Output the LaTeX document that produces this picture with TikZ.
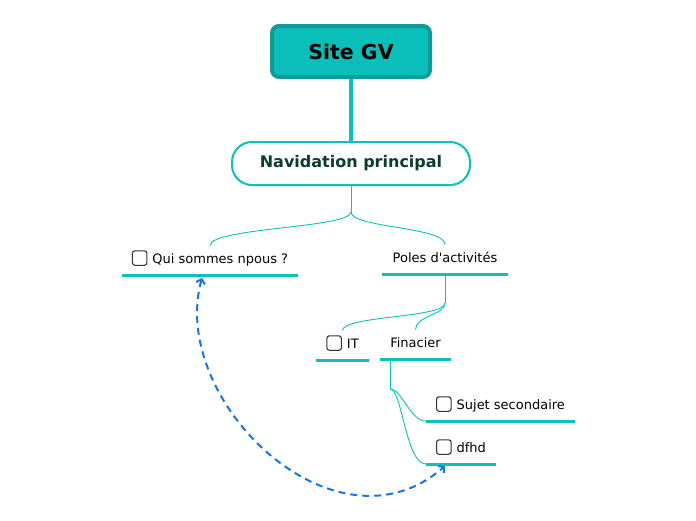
\documentclass[tikz,border=0pt]{standalone}
\usepackage{fontspec}
\setmainfont{DejaVu Sans}
\usepackage{tikz}
\usetikzlibrary{arrows.meta,positioning,calc}
\definecolor{tealfill}{HTML}{0ABFBA}
\definecolor{tealedge}{HTML}{12999A}
\definecolor{tealline}{HTML}{0DC0B9}
\definecolor{navtext}{HTML}{0B3D2E}
\definecolor{linkblue}{HTML}{1A73E8}
\definecolor{boxgray}{HTML}{333333}
\newcommand{\chkbox}{\tikz[baseline=1.5pt]\draw[draw=boxgray,line width=1.1pt,rounded corners=2.5pt] (0pt,0pt) rectangle (14.5pt,14.5pt);\hspace{5pt}}

\begin{document}
\begin{tikzpicture}[
  x=1pt,y=-1pt,
  font=\fontsize{13}{15}\selectfont,
  rootbox/.style={draw=tealedge,fill=tealfill,line width=4pt,rounded corners=7pt,minimum width=158pt,minimum height=51pt,font=\fontsize{20.5}{24}\selectfont\bfseries},
  mainbox/.style={draw=tealline,line width=2pt,rounded corners=20pt,minimum width=238pt,minimum height=43pt,text=navtext,font=\fontsize{16}{18}\selectfont\bfseries},
  topic/.style={anchor=south,inner xsep=10pt,inner ysep=8pt,text height=10pt,text depth=3pt},
  uline/.style={tealline,line width=3pt},
  trunk/.style={tealline,line width=4pt},
  branch/.style={tealline,line width=0.9pt},
  link/.style={linkblue,line width=2pt,dash pattern=on 7pt off 5pt,{Straight Barb[length=4pt,width=9pt]}-{Straight Barb[length=4pt,width=9pt]}}
]
\useasboundingbox (0,0) rectangle (696,520);

\node[rootbox] (root) at (351,51.5) {Site GV};
\node[mainbox] (nav) at (351,163.5) {Navidation principal};

\node[topic] (qui) at (210,275) {\chkbox Qui sommes npous ?};
\node[topic] (poles) at (445,274) {Poles d\textquotesingle activités};
\node[topic] (it) at (342.5,360) {\chkbox IT};
\node[topic] (fin) at (415.5,359) {Finacier};
\node[topic] (sujet) at (500.5,421) {\chkbox Sujet secondaire};
\node[topic] (dfhd) at (461,464) {\chkbox dfhd};

\foreach \n in {qui,poles,it,fin,sujet,dfhd}
  \draw[uline] (\n.south west) -- (\n.south east);

\draw[trunk] (root.south) -- (nav.north);

% branches
\draw[branch] (nav.south) -- ++(0,26) coordinate (navfork);
\draw[branch] (navfork) .. controls +(0,16) and +(0,-18) .. (qui.north);
\draw[branch] (navfork) .. controls +(0,16) and +(0,-18) .. (poles.north);

\draw[branch] (poles.south) -- ++(0,29) coordinate (polesfork);
\draw[branch] (polesfork) .. controls +(0,15) and +(0,-15) .. (it.north);
\draw[branch] (polesfork) .. controls +(0,12) and +(0,-14) .. (fin.north);

\draw[branch] ([xshift=10pt]fin.south west) -- ++(0,30) coordinate (finfork);
\draw[branch] (finfork) .. controls +(12,0) and +(-16,0) .. (sujet.south west);
\draw[branch] (finfork) .. controls +(12,0) and +(-20,0) .. (dfhd.south west);

% link
\draw[link] ([xshift=-8pt,yshift=-3pt]qui.south) .. controls (168,400) and (335,562) .. ([xshift=-16pt,yshift=-2pt]dfhd.south);
\end{tikzpicture}
\end{document}
